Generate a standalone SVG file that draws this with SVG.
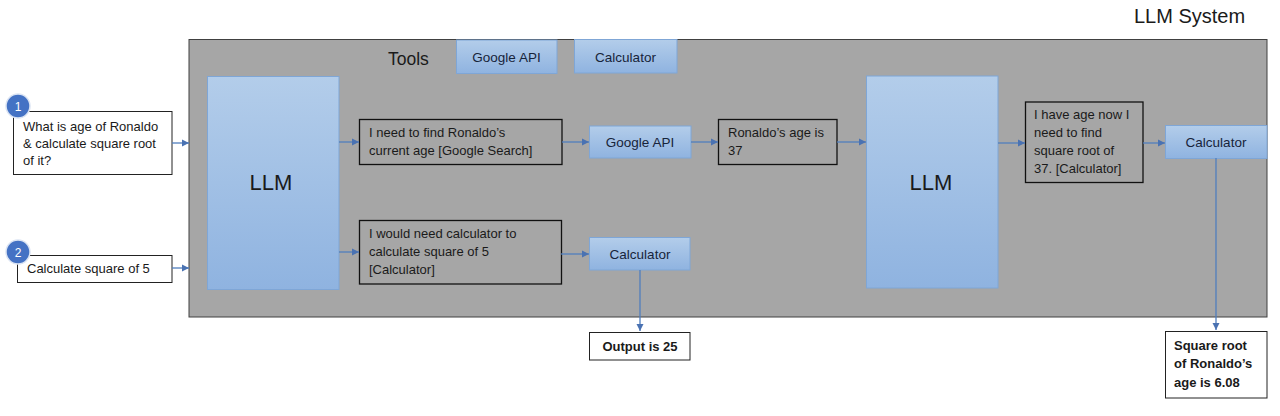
<svg xmlns="http://www.w3.org/2000/svg" width="1280" height="416" viewBox="0 0 1280 416">
<defs>
<linearGradient id="blue" x1="0" y1="0" x2="0" y2="1">
<stop offset="0" stop-color="#b3cdea"/>
<stop offset="1" stop-color="#8fb3e0"/>
</linearGradient>
<marker id="arr" markerWidth="8" markerHeight="8" refX="7" refY="4" orient="auto" markerUnits="userSpaceOnUse">
<path d="M0,0.5 L7,4 L0,7.5 Z" fill="#4a72b2"/>
</marker>
<style>
.t{font-family:"Liberation Sans",Arial,sans-serif;fill:#1a1a1a;}
.s{font-size:13px;}
.b{font-size:13px;font-weight:bold;}
.bt{font-family:"Liberation Sans",Arial,sans-serif;fill:#17243a;font-size:13.5px;text-anchor:middle;}
.blue{fill:url(#blue);stroke:#7fa6d6;stroke-width:1;}
.box{fill:none;stroke:#111;stroke-width:1.3;}
.wbox{fill:#fff;stroke:#222;stroke-width:1;}
.c{stroke:#4f7dbd;stroke-width:1.3;fill:none;marker-end:url(#arr);}
.circ{fill:#4472c4;stroke:#dbe4f3;stroke-width:1.5;}
.ct{font-family:"Liberation Sans",Arial,sans-serif;fill:#fff;font-size:12px;text-anchor:middle;}
</style>
</defs>
<rect width="1280" height="416" fill="#fff"/>

<g id="title"><text class="t" x="1134" y="23" font-size="20">LLM System</text></g>

<g id="system"><rect x="189" y="39.5" width="1078" height="277.5" fill="#a6a6a6" stroke="#404040" stroke-width="1"/></g>

<g id="tools-label"><text class="t" x="388" y="65" font-size="17.5">Tools</text></g>
<g id="tool-google"><rect class="blue" x="456.5" y="40" width="100.5" height="33.5"/><text class="bt" x="506.5" y="62">Google API</text></g>
<g id="tool-calc"><rect class="blue" x="574.5" y="39.5" width="102.5" height="33.5"/><text class="bt" x="625.5" y="62">Calculator</text></g>

<g id="q1">
<rect class="wbox" x="13.5" y="111.5" width="158.5" height="63"/>
<text class="t s" x="23" y="131">What is age of Ronaldo</text>
<text class="t s" x="23" y="148">&amp; calculate square root</text>
<text class="t s" x="23" y="165">of it?</text>
<circle class="circ" cx="18" cy="106" r="12"/><text class="ct" x="18" y="110.5">1</text>
</g>
<g id="q2">
<rect class="wbox" x="17.5" y="255.5" width="154.5" height="27"/>
<text class="t s" x="27" y="273">Calculate square of 5</text>
<circle class="circ" cx="18" cy="252" r="12"/><text class="ct" x="18" y="256.5">2</text>
</g>

<g id="llm1"><rect class="blue" x="207.5" y="76.5" width="131.5" height="213"/><text class="t" x="271" y="190" font-size="22" text-anchor="middle">LLM</text></g>
<g id="llm2"><rect class="blue" x="866.5" y="76" width="131.5" height="212"/><text class="t" x="931" y="190" font-size="22" text-anchor="middle">LLM</text></g>

<g id="find-age">
<rect class="box" x="359.5" y="119.5" width="202.5" height="45"/>
<text class="t s" x="369" y="137">I need to find Ronaldo’s</text>
<text class="t s" x="369" y="155">current age [Google Search]</text>
</g>
<g id="google"><rect class="blue" x="589.5" y="126" width="101.5" height="32"/><text class="bt" x="640" y="147">Google API</text></g>
<g id="age"><rect class="box" x="718.5" y="119.5" width="118.5" height="45"/>
<text class="t s" x="728" y="137">Ronaldo’s age is</text>
<text class="t s" x="728" y="155">37</text></g>

<g id="need-calc">
<rect class="box" x="359.5" y="220.5" width="202" height="63.5"/>
<text class="t s" x="369" y="238">I would need calculator to</text>
<text class="t s" x="369" y="256">calculate square of 5</text>
<text class="t s" x="369" y="274">[Calculator]</text>
</g>
<g id="calc1"><rect class="blue" x="589.5" y="237.5" width="100.5" height="32.5"/><text class="bt" x="640" y="259">Calculator</text></g>
<g id="out1"><rect class="wbox" x="589.5" y="332.5" width="100.5" height="27.5"/><text class="t b" x="640" y="351" text-anchor="middle">Output is 25</text></g>

<g id="sqrt-need">
<rect class="box" x="1025.5" y="102" width="117.5" height="80.5"/>
<text class="t s" x="1034" y="119">I have age now I</text>
<text class="t s" x="1034" y="137">need to find</text>
<text class="t s" x="1034" y="155">square root of</text>
<text class="t s" x="1034" y="173">37. [Calculator]</text>
</g>
<g id="calc2"><rect class="blue" x="1165.5" y="125.5" width="101.5" height="33"/><text class="bt" x="1216" y="147">Calculator</text></g>
<g id="out2"><rect class="wbox" x="1165.5" y="331.5" width="101.5" height="66.5"/>
<text class="t b" x="1174" y="350">Square root</text>
<text class="t b" x="1174" y="368">of Ronaldo’s</text>
<text class="t b" x="1174" y="387">age is 6.08</text></g>

<g id="connectors">
<path class="c" d="M172,143 H189"/>
<path class="c" d="M172,268 H189"/>
<path class="c" d="M339,142 H359"/>
<path class="c" d="M339,252 H359"/>
<path class="c" d="M562,142 H589"/>
<path class="c" d="M691,142 H718"/>
<path class="c" d="M837,142 H866"/>
<path class="c" d="M561,254 H589"/>
<path class="c" d="M640,270 V331"/>
<path class="c" d="M998,143 H1025"/>
<path class="c" d="M1143,143 H1165"/>
<path class="c" d="M1216,158 V330"/>
</g>
</svg>
